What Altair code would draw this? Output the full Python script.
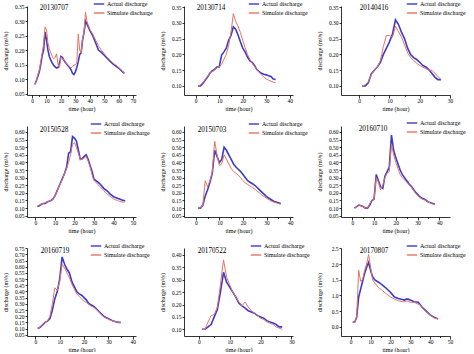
import altair as alt
import pandas as pd

FONT = "Liberation Serif"
BLUE = "#3b3bcc"
RED = "#e8735f"
SERIES = ["Actual discharge", "Simulate discharge"]

# ---------------- data ----------------
labels = ["20130707", "20130714", "20140416", "20150528", "20150703",
          "20160710", "20160719", "20170522", "20170807"]

t1 = [2, 3, 4, 5, 6, 7, 8, 9, 10, 11, 12, 13, 14, 15, 16, 17, 18, 19, 20, 21, 22, 23, 24, 25, 26,
      27, 28, 29, 30, 31, 32, 33, 34, 35, 36, 37, 38, 39, 40, 42, 44, 46, 48, 50, 52, 54, 56, 58,
      60, 62, 64]
a1 = [0.082, 0.095, 0.11, 0.125, 0.15, 0.18, 0.20, 0.262, 0.235, 0.20, 0.178, 0.165, 0.155, 0.148,
      0.142, 0.138, 0.14, 0.155, 0.178, 0.175, 0.165, 0.158, 0.152, 0.146, 0.14, 0.132, 0.12, 0.116,
      0.125, 0.14, 0.16, 0.185, 0.19, 0.235, 0.26, 0.30, 0.29, 0.28, 0.268, 0.25, 0.225, 0.20, 0.192,
      0.182, 0.172, 0.162, 0.152, 0.145, 0.138, 0.128, 0.12]
s1 = [0.08, 0.095, 0.115, 0.13, 0.16, 0.19, 0.22, 0.28, 0.27, 0.225, 0.205, 0.19, 0.178, 0.17,
      0.175, 0.187, 0.15, 0.14, 0.175, 0.172, 0.165, 0.16, 0.152, 0.148, 0.142, 0.138, 0.142, 0.148,
      0.15, 0.155, 0.255, 0.20, 0.19, 0.24, 0.26, 0.33, 0.30, 0.285, 0.272, 0.255, 0.235, 0.215, 0.2,
      0.188, 0.175, 0.165, 0.155, 0.148, 0.14, 0.13, 0.12]

t2 = list(range(1, 35))
a2 = [0.10, 0.10, 0.108, 0.118, 0.128, 0.14, 0.148, 0.152, 0.16, 0.16, 0.198, 0.208, 0.22, 0.245,
      0.26, 0.288, 0.28, 0.262, 0.24, 0.22, 0.208, 0.192, 0.18, 0.175, 0.165, 0.152, 0.145, 0.14,
      0.137, 0.135, 0.132, 0.13, 0.122, 0.12]
s2 = [0.10, 0.103, 0.11, 0.12, 0.13, 0.14, 0.145, 0.15, 0.158, 0.16, 0.168, 0.185, 0.2, 0.228,
      0.27, 0.33, 0.305, 0.29, 0.27, 0.245, 0.222, 0.2, 0.185, 0.172, 0.162, 0.152, 0.143, 0.135,
      0.128, 0.122, 0.118, 0.115, 0.112, 0.11]

t3 = list(range(1, 28))
a3 = [0.10, 0.10, 0.11, 0.138, 0.15, 0.16, 0.175, 0.2, 0.22, 0.24, 0.265, 0.31, 0.295, 0.27, 0.25,
      0.22, 0.2, 0.19, 0.184, 0.175, 0.165, 0.16, 0.152, 0.14, 0.128, 0.12, 0.12]
s3 = [0.10, 0.103, 0.113, 0.135, 0.15, 0.16, 0.18, 0.225, 0.26, 0.26, 0.255, 0.29, 0.272, 0.255,
      0.23, 0.205, 0.19, 0.18, 0.172, 0.165, 0.16, 0.155, 0.15, 0.15, 0.14, 0.13, 0.12]

t4 = list(range(1, 47))
a4 = [0.11, 0.115, 0.125, 0.13, 0.13, 0.14, 0.145, 0.15, 0.16, 0.18, 0.21, 0.24, 0.27, 0.30, 0.33,
      0.37, 0.46, 0.47, 0.57, 0.56, 0.54, 0.48, 0.42, 0.425, 0.44, 0.45, 0.42, 0.38, 0.34, 0.29,
      0.28, 0.27, 0.26, 0.245, 0.23, 0.22, 0.21, 0.195, 0.185, 0.175, 0.17, 0.165, 0.16, 0.155,
      0.15, 0.15]
s4 = [0.11, 0.12, 0.125, 0.13, 0.135, 0.14, 0.145, 0.15, 0.16, 0.18, 0.21, 0.24, 0.265, 0.295,
      0.33, 0.36, 0.40, 0.45, 0.52, 0.53, 0.50, 0.46, 0.42, 0.42, 0.43, 0.44, 0.41, 0.37, 0.32,
      0.28, 0.27, 0.255, 0.24, 0.23, 0.215, 0.20, 0.19, 0.18, 0.17, 0.16, 0.155, 0.15, 0.145, 0.14,
      0.14, 0.14]

t5 = list(range(1, 37))
a5 = [0.10, 0.10, 0.12, 0.18, 0.22, 0.27, 0.33, 0.48, 0.44, 0.40, 0.42, 0.50, 0.48, 0.45, 0.42,
      0.39, 0.37, 0.355, 0.34, 0.32, 0.30, 0.28, 0.27, 0.26, 0.25, 0.235, 0.22, 0.205, 0.19, 0.175,
      0.165, 0.155, 0.145, 0.14, 0.135, 0.13]
s5 = [0.10, 0.10, 0.12, 0.28, 0.24, 0.28, 0.34, 0.54, 0.45, 0.38, 0.39, 0.45, 0.42, 0.39, 0.36,
      0.34, 0.33, 0.315, 0.30, 0.28, 0.265, 0.255, 0.245, 0.235, 0.225, 0.21, 0.20, 0.185, 0.175,
      0.165, 0.155, 0.145, 0.14, 0.135, 0.13, 0.125]

t6 = list(range(1, 39))
a6 = [0.10, 0.11, 0.12, 0.115, 0.11, 0.10, 0.10, 0.12, 0.15, 0.16, 0.32, 0.28, 0.24, 0.23, 0.31,
      0.34, 0.37, 0.58, 0.48, 0.43, 0.39, 0.35, 0.32, 0.30, 0.28, 0.26, 0.245, 0.225, 0.205, 0.19,
      0.175, 0.165, 0.16, 0.15, 0.14, 0.135, 0.13, 0.125]
s6 = [0.10, 0.11, 0.12, 0.115, 0.11, 0.10, 0.10, 0.13, 0.15, 0.16, 0.30, 0.27, 0.22, 0.25, 0.30,
      0.33, 0.34, 0.52, 0.45, 0.40, 0.36, 0.32, 0.30, 0.285, 0.27, 0.255, 0.24, 0.22, 0.20, 0.185,
      0.17, 0.16, 0.155, 0.148, 0.14, 0.133, 0.128, 0.122]

t7 = list(range(1, 36))
a7 = [0.10, 0.11, 0.13, 0.15, 0.16, 0.18, 0.25, 0.34, 0.40, 0.50, 0.68, 0.62, 0.58, 0.55, 0.48,
      0.44, 0.40, 0.38, 0.37, 0.35, 0.33, 0.30, 0.29, 0.28, 0.26, 0.24, 0.22, 0.20, 0.19, 0.18,
      0.17, 0.16, 0.155, 0.15, 0.15]
s7 = [0.10, 0.11, 0.13, 0.15, 0.16, 0.20, 0.30, 0.43, 0.41, 0.48, 0.62, 0.59, 0.55, 0.51, 0.46,
      0.42, 0.38, 0.36, 0.34, 0.32, 0.31, 0.295, 0.28, 0.27, 0.255, 0.235, 0.215, 0.195, 0.185,
      0.175, 0.165, 0.16, 0.155, 0.15, 0.145]

t8 = list(range(1, 28))
a8 = [0.10, 0.10, 0.11, 0.12, 0.15, 0.18, 0.25, 0.33, 0.29, 0.27, 0.25, 0.23, 0.205, 0.195, 0.185,
      0.175, 0.17, 0.165, 0.155, 0.15, 0.145, 0.135, 0.13, 0.125, 0.12, 0.11, 0.11]
s8 = [0.10, 0.10, 0.13, 0.155, 0.16, 0.19, 0.28, 0.38, 0.31, 0.28, 0.25, 0.23, 0.21, 0.195, 0.21,
      0.19, 0.175, 0.165, 0.155, 0.145, 0.14, 0.13, 0.125, 0.12, 0.11, 0.105, 0.10]

t9 = [1, 2, 3, 4, 5, 6, 7, 8, 9, 10, 11, 12, 14, 16, 18, 20, 22, 24, 26, 27, 28, 29, 30, 32, 34,
      35, 36, 38, 40, 42, 44]
a9 = [0.15, 0.15, 0.30, 0.95, 1.2, 1.45, 1.7, 1.9, 2.05, 1.8, 1.6, 1.5, 1.42, 1.33, 1.22, 1.1,
      0.95, 0.9, 0.87, 0.85, 0.88, 0.88, 0.85, 0.8, 0.78, 0.7, 0.62, 0.5, 0.38, 0.3, 0.25]
s9 = [0.15, 0.15, 0.30, 1.8, 1.45, 1.5, 1.8, 2.0, 2.3, 1.9, 1.5, 1.4, 1.25, 1.15, 1.05, 0.95,
      0.88, 0.83, 0.80, 0.80, 0.82, 0.82, 0.78, 0.78, 0.72, 0.70, 0.6, 0.48, 0.37, 0.28, 0.25]

# axis tick labels
yt_a = [0.05, 0.10, 0.15, 0.20, 0.25, 0.30, 0.35]
yt_b = [0.10, 0.15, 0.20, 0.25, 0.30, 0.35]
yt_c = [0.05, 0.10, 0.15, 0.20, 0.25, 0.30, 0.35, 0.40, 0.45, 0.50, 0.55, 0.60]
yt_d = [0.05, 0.10, 0.15, 0.20, 0.25, 0.30, 0.35, 0.40, 0.45, 0.50, 0.55, 0.60, 0.65, 0.70, 0.75]
yt_e = [0.10, 0.15, 0.20, 0.25, 0.30, 0.35, 0.40]
yt_f = [0.0, 0.5, 1.0, 1.5, 2.0, 2.5]
xt_70 = [0, 5, 10, 15, 20, 25, 30, 35, 40, 45, 50, 55, 60, 65, 70]
xt_50 = [0, 5, 10, 15, 20, 25, 30, 35, 40, 45, 50]
xt_40 = [0, 5, 10, 15, 20, 25, 30, 35, 40]
xt_30 = [0, 5, 10, 15, 20, 25, 30]


def panel(time, actual, sim, label, xdom, xt, ydom, yt, w, h, lx, ly, tx, ty, yfmt=".2f"):
    n = len(time)
    df = pd.DataFrame({
        "time": list(time) + list(time),
        "q": list(actual) + list(sim),
        "series": [SERIES[0]] * n + [SERIES[1]] * n,
    })
    color = alt.Color(
        "series:N",
        scale=alt.Scale(domain=SERIES, range=[BLUE, RED]),
        legend=alt.Legend(
            orient="none", legendX=lx, legendY=ly, title=None, direction="vertical",
            symbolType="stroke", symbolSize=110, symbolStrokeWidth=1.4,
            labelFont=FONT, labelFontSize=6, labelColor="black", labelOffset=2,
            rowPadding=-6, padding=0,
        ),
    )
    x = alt.X(
        "time:Q",
        scale=alt.Scale(domain=xdom, nice=False, zero=False),
        axis=alt.Axis(
            title="time (hour)", values=xt, grid=False,
            labelExpr="datum.value % 10 === 0 ? datum.label : ''",
            tickSize={"condition": {"test": "datum.value % 10 === 0", "value": 3}, "value": 1.5},
            labelFlush=False, labelOverlap=False, labelPadding=0.5,
            titleY=13, titleBaseline="middle",
        ),
    )
    y = alt.Y(
        "q:Q",
        scale=alt.Scale(domain=ydom, nice=False, zero=False),
        axis=alt.Axis(
            title="discharge (m³/s)", values=yt, format=yfmt, grid=False,
            tickSize=2, labelPadding=1, labelFlush=False, labelOverlap=False,
            titleX=-22, titleBaseline="middle",
        ),
    )
    base = alt.Chart(df)
    blue = base.transform_filter(alt.datum.series == SERIES[0]).mark_line(
        strokeWidth=1.6, clip=True).encode(x=x, y=y, color=color)
    red = base.transform_filter(alt.datum.series == SERIES[1]).mark_line(
        strokeWidth=1.0, clip=True).encode(x=x, y=y, color=color)
    ttl = alt.Chart(pd.DataFrame({"t": [label]})).mark_text(
        font=FONT, fontSize=7.2, color="black", align="center", baseline="middle"
    ).encode(x=alt.value(tx), y=alt.value(ty), text="t:N")
    return alt.layer(blue, red, ttl).properties(width=w, height=h)


W = 109
p1 = panel(t1, a1, s1, labels[0], [-3.5, 72], xt_70, [0.045, 0.352], yt_a, W, 89, 66, -8, 27, 2)
p2 = panel(t2, a2, s2, labels[1], [-5, 41.4], xt_40, [0.071, 0.354], yt_b, W, 89, 64, -8, 27, 2)
p3 = panel(t3, a3, s3, labels[2], [-6, 30], xt_30, [0.071, 0.354], yt_b, W, 89, 65, -8, 33, 2)
p4 = panel(t4, a4, s4, labels[3], [-4.3, 51.5], xt_50, [0.0415, 0.6394], yt_c, W, 91, 63, -8, 27, 4)
p5 = panel(t5, a5, s5, labels[4], [-5, 41.2], xt_40, [0.0415, 0.6394], yt_c, W, 91, 64, -8, 28, 4)
p6 = panel(t6, a6, s6, labels[5], [-5.2, 44.9], xt_40, [0.0415, 0.6394], yt_c, W, 91, 65, -9, 32, 3)
p7 = panel(t7, a7, s7, labels[6], [-3.4, 41.3], xt_40, [0.0395, 0.752], yt_d, W, 88, 63, -8, 28, 3)
p8 = panel(t8, a8, s8, labels[7], [-4.8, 30.5], xt_30, [0.073, 0.428], yt_e, W, 88, 66, -8, 28, 3)
p9 = panel(t9, a9, s9, labels[8], [-4.9, 50], xt_50, [-0.294, 2.51], yt_f, W, 88, 65, -8, 33, 3, ".1f")

chart = alt.concat(
    p1, p2, p3, p4, p5, p6, p7, p8, p9,
    columns=3, spacing={"row": 31, "column": 48}, bounds="flush",
).resolve_scale(
    color="independent"
).properties(
    padding={"left": 2, "top": -2, "right": 0, "bottom": 0},
    background="white",
).configure_view(stroke=None).configure_axis(
    labelFont=FONT, titleFont=FONT, labelFontSize=5.5, titleFontSize=6,
    labelColor="black", titleColor="black", titleFontWeight="normal",
    domainColor="black", tickColor="black", domainWidth=0.8, tickWidth=0.8,
)

chart.save("out.html", embed_options={"renderer": "svg", "actions": False})
